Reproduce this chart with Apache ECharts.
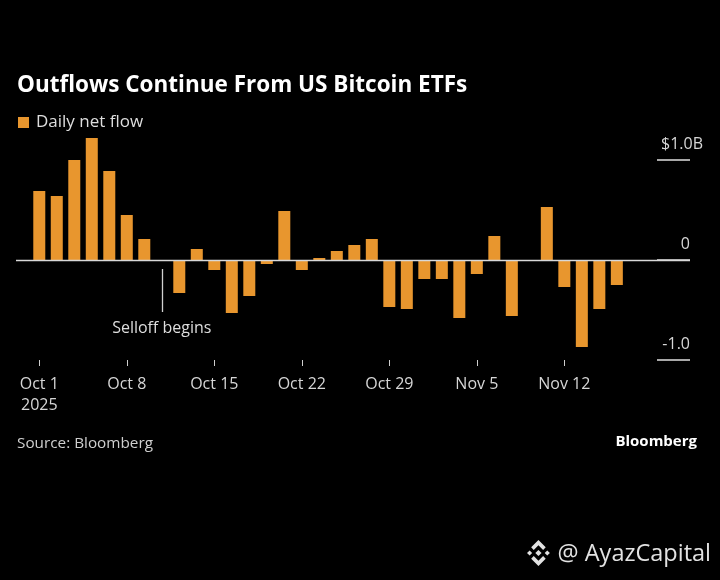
<!DOCTYPE html>
<html>
<head>
<meta charset="utf-8">
<script src="https://cdn.jsdelivr.net/npm/echarts@6/dist/echarts.min.js"></script>
<style>
    html, body { margin: 0; padding: 0; background: #000; }
    #chart { width: 720px; height: 580px; }
</style>
</head>
<body>
<div id="chart"></div>
<script>
// trading days, Oct 1 - Nov 17 2025
var days = ['Oct 1', 'Oct 2', 'Oct 3', 'Oct 6', 'Oct 7', 'Oct 8', 'Oct 9', 'Oct 10',
    'Oct 13', 'Oct 14', 'Oct 15', 'Oct 16', 'Oct 17', 'Oct 20', 'Oct 21', 'Oct 22',
    'Oct 23', 'Oct 24', 'Oct 27', 'Oct 28', 'Oct 29', 'Oct 30', 'Oct 31', 'Nov 3',
    'Nov 4', 'Nov 5', 'Nov 6', 'Nov 7', 'Nov 10', 'Nov 11', 'Nov 12', 'Nov 13',
    'Nov 14', 'Nov 17'];
// daily net flow, $B
var netFlow = [0.69, 0.64, 1.00, 1.22, 0.89, 0.45, 0.21, 0.00,
    -0.33, 0.11, -0.10, -0.53, -0.36, -0.04, 0.49, -0.10,
    0.02, 0.09, 0.15, 0.21, -0.47, -0.49, -0.19, -0.19,
    -0.58, -0.14, 0.24, -0.56, 0.00, 0.53, -0.27, -0.87,
    -0.49, -0.25];
var xTickDays = ['Oct 1', 'Oct 8', 'Oct 15', 'Oct 22', 'Oct 29', 'Nov 5', 'Nov 12'];
var xTickLabels = ['Oct 1\n2025', 'Oct 8', 'Oct 15', 'Oct 22', 'Oct 29', 'Nov 5', 'Nov 12'];
var yTicks = [-1, 0, 1];
var yTickLabels = ['-1.0', '0', '$1.0B'];
var selloffDay = 'Oct 10';

var orange = '#e8962e';
var fontName = '"Open Sans", "DejaVu Sans", sans-serif';

var barData = netFlow.map(function (v, i) { return [i, v]; });
var xTickPos = xTickDays.map(function (d) { return days.indexOf(d); });
var selloffIdx = days.indexOf(selloffDay);

// binance-style logo, drawn in a 100x100 box then scaled down
var logoParts = [
    [[50, 0], [78, 28], [68, 38], [50, 20], [32, 38], [22, 28]],
    [[50, 100], [22, 72], [32, 62], [50, 80], [68, 62], [78, 72]],
    [[50, 38], [62, 50], [50, 62], [38, 50]],
    [[6, 50], [16, 40], [26, 50], [16, 60]],
    [[74, 50], [84, 40], [94, 50], [84, 60]]
];

var myChart = echarts.init(document.getElementById('chart'));
var option = {
    backgroundColor: '#000',
    textStyle: { fontFamily: fontName },
    title: [
        {
            text: 'Outflows Continue From US Bitcoin ETFs',
            left: 17, top: 74, padding: 0,
            textStyle: { color: '#fff', fontSize: 22.5, fontWeight: 'bold', fontFamily: fontName }
        },
        {
            text: 'Source: Bloomberg',
            left: 17, top: 436, padding: 0,
            textStyle: { color: '#cfcfcf', fontSize: 15.3, fontWeight: 'normal', fontFamily: fontName }
        },
        {
            text: 'Bloomberg',
            right: 23, top: 434, padding: 0,
            textStyle: { color: '#fff', fontSize: 15, fontWeight: 'bold', fontFamily: fontName }
        },
        {
            text: '@ AyazCapital',
            right: 9, top: 542, padding: 0,
            textStyle: { color: '#e2e2e2', fontSize: 23.5, fontWeight: 'normal', fontFamily: fontName }
        }
    ],
    legend: {
        left: 18, top: 114,
        padding: 0,
        icon: 'rect',
        itemWidth: 11, itemHeight: 11,
        textStyle: { color: '#dedede', fontSize: 17, padding: [0, 0, 0, 2] },
        data: ['Daily net flow']
    },
    graphic: [
        {
            type: 'group',
            left: 527, top: 540,
            children: logoParts.map(function (pts) {
                return {
                    type: 'polygon',
                    scaleX: 0.26, scaleY: 0.26,
                    shape: { points: pts },
                    style: { fill: '#e2e2e2' }
                };
            })
        }
    ],
    grid: { left: 16, right: 30, top: 130, bottom: 220 },
    xAxis: {
        type: 'value',
        min: -1.33,
        max: 37.18,
        splitLine: { show: false },
        axisLine: { show: false, onZero: false },
        axisTick: {
            show: true, length: 6,
            customValues: xTickPos,
            lineStyle: { color: '#cfcfcf', width: 1 }
        },
        axisLabel: {
            customValues: xTickPos,
            margin: 14,
            color: '#d6d6d6',
            fontSize: 16,
            lineHeight: 21,
            formatter: function (v) {
                var k = xTickPos.indexOf(Math.round(v));
                return k >= 0 ? xTickLabels[k] : '';
            }
        }
    },
    yAxis: {
        type: 'value',
        position: 'right',
        min: -1,
        max: 1.3,
        splitLine: { show: false },
        axisLine: { show: false, onZero: false },
        axisTick: {
            show: true, inside: true, length: 33,
            customValues: yTicks,
            lineStyle: { color: '#e0e0e0', width: 1.5 }
        },
        axisLabel: {
            customValues: yTicks,
            inside: true,
            margin: -13,
            color: '#d6d6d6',
            fontSize: 16,
            verticalAlign: 'bottom',
            padding: [0, 0, 8, 0],
            formatter: function (v) {
                var k = yTicks.indexOf(v);
                if (k < 0) return '';
                return v === 1 ? yTickLabels[k] : yTickLabels[k] + '{gap| }';
            },
            rich: { gap: { width: 13 } }
        }
    },
    series: [
        {
            name: 'Daily net flow',
            type: 'bar',
            barWidth: 12,
            itemStyle: { color: orange },
            data: barData,
            markLine: {
                silent: true,
                symbol: 'none',
                animation: false,
                data: [
                    {
                        yAxis: 0,
                        lineStyle: { color: '#d8d8d8', width: 1.3, type: 'solid' },
                        label: { show: false }
                    },
                    [
                        { coord: [selloffIdx, -0.09] },
                        {
                            coord: [selloffIdx, -0.52],
                            lineStyle: { color: '#d0d0d0', width: 1.3, type: 'solid' },
                            label: {
                                show: true,
                                position: 'end',
                                distance: 8,
                                formatter: 'Selloff begins',
                                color: '#dedede',
                                fontSize: 16,
                                fontFamily: fontName
                            }
                        }
                    ]
                ]
            }
        }
    ]
};
myChart.setOption(option);
</script>
</body>
</html>
